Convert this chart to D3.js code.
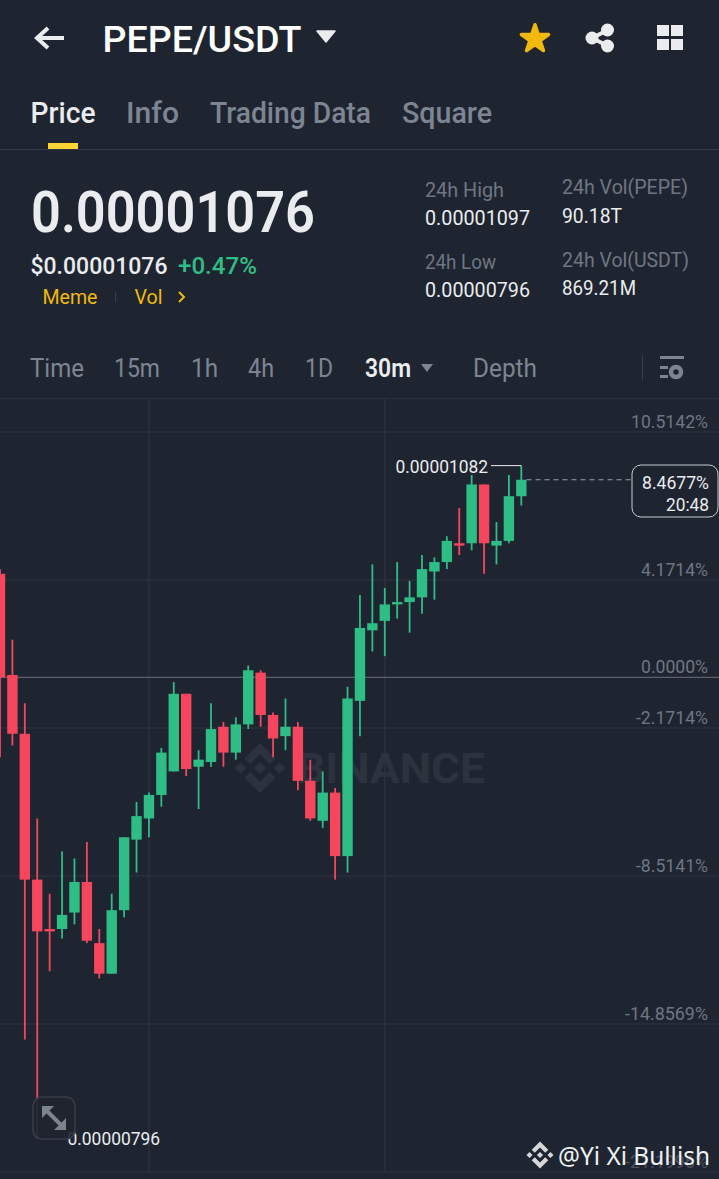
<!DOCTYPE html>
<html>
<head>
<meta charset="utf-8">
<title>PEPE/USDT</title>
<script src="https://cdn.jsdelivr.net/npm/d3@7"></script>
<style>
  html, body { margin: 0; padding: 0; background: #1f2530; }
  svg { display: block; font-family: Roboto, sans-serif; }
</style>
</head>
<body>
<svg id="chart" width="719" height="1179"></svg>
<script>
// prices are in units of 0.00000001, one candle per 30m
const opens  = [1036,993,968,906,885,885,892,905,879,866,893,923,932,942,952,985,954,956,971,960,972,994,976,967,971,948,931,943,916,982,1012,1016,1023,1024,1026,1037,1041,1049,1049,1074,1048,1050,1069];
const highs  = [1038,1008,981,932,900,918,915,922,885,900,924,939,943,962,990,985,961,981,973,975,997,995,977,983,973,957,952,945,988,1027,1040,1030,1041,1033,1044,1043,1052,1064,1078,1074,1058,1078,1082];
const lows   = [958,963,838,796,867,881,887,879,864,866,890,909,924,937,952,950,936,954,954,957,970,971,958,961,944,931,928,906,909,967,1003,1001,1017,1011,1019,1025,1038,1044,1046,1036,1040,1049,1065];
const closes = [992,968,906,884,884,891,905,880,866,893,924,933,942,960,985,953,957,970,960,972,995,976,966,971,948,932,943,916,983,1013,1015,1023,1024,1026,1038,1041,1050,1048,1074,1049,1050,1069,1076];

const basePrice = 992;
const pctTicks = [10.5142, 4.1714, 0, -2.1714, -8.5141, -14.8569, -21.1996];
const gridCandles = [12, 31];
const timeframes = ["Time", "15m", "1h", "4h", "1D", "30m", "Depth"];
const tabs = ["Price", "Info", "Trading Data", "Square"];

const BG = "#1f2530", WHITE = "#eaecef", GREY = "#7d8592", DIM = "#6f7683";
const UP = "#2ebd85", DOWN = "#f6465d", GOLD = "#f0b90b", GRID = "#2b303b";

const svg = d3.select("#chart");
svg.append("rect").attr("width", 719).attr("height", 1179).attr("fill", BG);

function label(parent, str, x, y, size, fill, weight, len, anchor) {
  const t = parent.append("text")
    .attr("x", x).attr("y", y)
    .attr("font-size", size).attr("fill", fill)
    .attr("font-weight", weight || 400)
    .attr("text-anchor", anchor || "start")
    .text(str);
  if (len) t.attr("textLength", len).attr("lengthAdjust", "spacingAndGlyphs");
  return t;
}

function logo(parent, cx, cy, size, fill) {
  const k = size / 32;
  const g = parent.append("g")
    .attr("transform", `translate(${cx - size / 2},${cy - size / 2}) scale(${k})`)
    .attr("fill", fill);
  ["M9.79 13.45 16 7.24l6.21 6.21 3.61-3.61L16 0 6.18 9.84z",
   "M0 16l3.61-3.61L7.22 16l-3.61 3.61z",
   "M9.79 18.55 16 24.76l6.21-6.21 3.61 3.61L16 32l-9.82-9.82z",
   "M24.78 16l3.61-3.61L32 16l-3.61 3.61z",
   "M19.66 16 16 12.34 12.34 16 16 19.66z"].forEach(d => g.append("path").attr("d", d));
}

// ---- header
const head = svg.append("g");
head.append("path").attr("d", "M64 38H38M48 28L37 38L48 48")
  .attr("fill", "none").attr("stroke", WHITE).attr("stroke-width", 4);
label(head, "PEPE/USDT", 102.5, 52, 37, "#ffffff", 500, 199);
head.append("path").attr("d", "M317 31H335L326 42Z").attr("fill", WHITE).attr("stroke", WHITE).attr("stroke-width", 1.5).attr("stroke-linejoin", "round");
head.append("path")
  .attr("d", d3.symbol().type(d3.symbolStar).size(230)())
  .attr("transform", "translate(535,39)")
  .attr("fill", GOLD).attr("stroke", GOLD).attr("stroke-width", 3.5).attr("stroke-linejoin", "round");
head.append("path").attr("d", "M608 30L592 38L608 46").attr("fill", "none").attr("stroke", WHITE).attr("stroke-width", 4);
[[607.5, 30], [592, 38], [607.5, 46]].forEach(c =>
  head.append("circle").attr("cx", c[0]).attr("cy", c[1]).attr("r", 6.5).attr("fill", WHITE));
[[657, 25], [671, 25], [657, 39], [671, 39]].forEach(c =>
  head.append("rect").attr("x", c[0]).attr("y", c[1]).attr("width", 12).attr("height", 11).attr("fill", WHITE));

// ---- tabs
const tabX = [30.5, 126, 210, 402], tabW = [65, 53, 161, 90];
tabs.forEach((d, i) => label(svg, d, tabX[i], 123, 29, i === 0 ? WHITE : GREY, 500, tabW[i]));
svg.append("rect").attr("x", 48).attr("y", 143).attr("width", 30).attr("height", 6).attr("fill", "#fcd535");
svg.append("rect").attr("x", 0).attr("y", 149).attr("width", 719).attr("height", 1).attr("fill", "#323843");

// ---- price block
label(svg, "0.00001076", 31, 232, 58, WHITE, 600, 284);
label(svg, "$0.00001076", 30.5, 274, 24, WHITE, 500, 137);
label(svg, "+0.47%", 178, 274, 24, UP, 500, 79);
label(svg, "Meme", 42.5, 304, 21, GOLD, 400, 55);
svg.append("rect").attr("x", 115).attr("y", 292).attr("width", 1).attr("height", 10).attr("fill", "#3a404b");
label(svg, "Vol", 134.5, 304, 21, GOLD, 400, 28);
svg.append("path").attr("d", "M179 292L184 297L179 302").attr("fill", "none").attr("stroke", GOLD).attr("stroke-width", 2);

label(svg, "24h High", 425, 197, 21, DIM, 400, 79);
label(svg, "0.00001097", 425, 225, 21, WHITE, 400, 105);
label(svg, "24h Vol(PEPE)", 562, 194, 21, DIM, 400, 126);
label(svg, "90.18T", 562, 223, 21, WHITE, 400, 60);
label(svg, "24h Low", 425, 269, 21, DIM, 400, 71);
label(svg, "0.00000796", 425, 297, 21, WHITE, 400, 105);
label(svg, "24h Vol(USDT)", 562, 267, 21, DIM, 400, 127);
label(svg, "869.21M", 562, 295, 21, WHITE, 400, 74);

// ---- timeframe row
const tfX = [30, 114, 191, 248, 305, 365, 473], tfW = [54, 46, 27, 26, 28, 46, 64];
timeframes.forEach((d, i) => label(svg, d, tfX[i], 377, 25, d === "30m" ? WHITE : GREY, d === "30m" ? 600 : 400, tfW[i]));
svg.append("path").attr("d", "M421 364H433L427 372Z").attr("fill", GREY);
svg.append("rect").attr("x", 642).attr("y", 355).attr("width", 1).attr("height", 25).attr("fill", "#3a404b");
const cfg = svg.append("g").attr("fill", GREY);
cfg.append("rect").attr("x", 660).attr("y", 356).attr("width", 24).attr("height", 3);
cfg.append("rect").attr("x", 660).attr("y", 366).attr("width", 8).attr("height", 3);
cfg.append("rect").attr("x", 660).attr("y", 375).attr("width", 8).attr("height", 3);
cfg.append("circle").attr("cx", 676).attr("cy", 372).attr("r", 5).attr("fill", "none").attr("stroke", GREY).attr("stroke-width", 4.5);
svg.append("rect").attr("x", 0).attr("y", 398).attr("width", 719).attr("height", 1).attr("fill", "#2b303b");

// ---- scales
const pctOf = p => (p / basePrice - 1) * 100;
const y = d3.scaleLinear().domain([-21.1996, 10.5142]).range([1172, 432]);
const x = d3.scaleLinear().domain([0, 42]).range([0, 521.3]);
const bodyW = 10.4, wickW = 1.8;

// ---- grid and right axis
const plot = svg.append("g");
plot.selectAll(".vgrid").data(gridCandles).enter().append("line")
  .attr("class", "vgrid")
  .attr("x1", d => x(d)).attr("x2", d => x(d))
  .attr("y1", 399).attr("y2", 1172)
  .attr("stroke", GRID).attr("stroke-width", 1.6);

const yAxis = plot.append("g").attr("transform", "translate(0,-0.5)")
  .call(d3.axisRight(y).tickValues(pctTicks).tickSize(719).tickFormat(d => d.toFixed(4) + "%"));
yAxis.select(".domain").remove();
yAxis.selectAll(".tick line")
  .attr("stroke", d => d === 0 ? "#5b606b" : GRID)
  .attr("stroke-width", d => d === 0 ? 1.4 : 1.6);
yAxis.selectAll(".tick text")
  .attr("x", 708).attr("dy", -4).attr("dominant-baseline", "auto")
  .attr("text-anchor", "end")
  .attr("font-family", "Roboto, sans-serif").attr("font-size", 18)
  .attr("textLength", d => d === -14.8569 || d === -21.1996 ? 83 : d < 0 ? 72 : d === 10.5142 ? 77 : 67)
  .attr("lengthAdjust", "spacingAndGlyphs")
  .attr("fill", d => d === -21.1996 ? "#4a505c" : DIM);

// ---- watermark
logo(plot, 260, 768, 50, "#2c323e");
label(plot, "BINANCE", 297, 783, 42, "#2c323e", 700, 188);

// ---- candles
const candles = opens.map((o, i) => ({ i, o, h: highs[i], l: lows[i], c: closes[i] }));
const col = d => d.c > d.o ? UP : DOWN;
const cg = plot.selectAll(".candle").data(candles).enter().append("g").attr("class", "candle");
cg.append("line")
  .attr("x1", d => x(d.i)).attr("x2", d => x(d.i))
  .attr("y1", d => y(pctOf(d.h))).attr("y2", d => y(pctOf(d.l)))
  .attr("stroke", col).attr("stroke-width", wickW);
cg.append("rect")
  .attr("x", d => x(d.i) - bodyW / 2)
  .attr("width", bodyW)
  .attr("y", d => y(pctOf(Math.max(d.o, d.c))))
  .attr("height", d => Math.max(2, Math.abs(y(pctOf(d.o)) - y(pctOf(d.c)))))
  .attr("fill", col);

// ---- high, low and last price markers
const last = candles[candles.length - 1];
const hiY = y(pctOf(d3.max(highs))), loY = y(pctOf(d3.min(lows))), lastY = y(pctOf(last.c));
label(plot, "0.00001082", 395.5, hiY + 7.5, 18.5, WHITE, 400, 92.5);
plot.append("line").attr("x1", 491).attr("x2", x(last.i)).attr("y1", hiY).attr("y2", hiY).attr("stroke", WHITE).attr("stroke-width", 1);
label(plot, "0.00000796", 67.5, loY + 7, 18.5, WHITE, 400, 92.5);

plot.append("line").attr("x1", x(last.i) + bodyW / 2).attr("x2", 632).attr("y1", lastY).attr("y2", lastY)
  .attr("stroke", "#9a9fa8").attr("stroke-width", 1).attr("stroke-dasharray", "5 4");
plot.append("rect").attr("x", 632).attr("y", 465).attr("width", 86).attr("height", 52).attr("rx", 9)
  .attr("fill", BG).attr("stroke", "#c9ccd1").attr("stroke-width", 1);
label(plot, "8.4677%", 709, 489, 18.5, WHITE, 400, 67, "end");
label(plot, "20:48", 709, 511, 18.5, WHITE, 400, 43, "end");

// ---- expand button
const btn = svg.append("g");
btn.append("rect").attr("x", 33).attr("y", 1097).attr("width", 42).attr("height", 42).attr("rx", 9)
  .attr("fill", BG).attr("fill-opacity", 0.9).attr("stroke", "#383d49").attr("stroke-width", 1.5);
btn.append("path").attr("d", "M42 1106H54L42 1118Z M66 1130H54L66 1118Z").attr("fill", "#7d838d");
btn.append("line").attr("x1", 47).attr("y1", 1111).attr("x2", 61).attr("y2", 1125).attr("stroke", "#7d838d").attr("stroke-width", 4);

// ---- repost mark
logo(svg, 540, 1155, 27, "#d5d7db");
label(svg, "@Yi Xi Bullish", 558, 1165, 25, "#eef0f2", 400, 152).attr("font-family", "'Noto Sans', sans-serif");
</script>
</body>
</html>
